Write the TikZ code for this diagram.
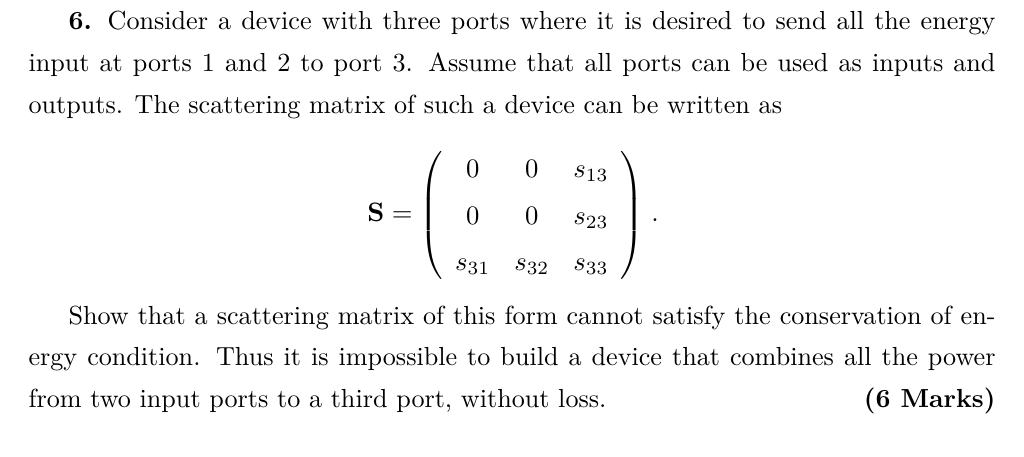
\documentclass[tikz,border=0pt]{standalone}
\usepackage{amsmath}
\begin{document}
\begin{tikzpicture}[x=0.375pt,y=-0.375pt,
  ln/.style={anchor=base west,inner sep=0pt,font=\fontsize{9.8}{12}\selectfont}]
\useasboundingbox (0,0) rectangle (1024,457);
\node[ln] (l1) at (68,30) {\makebox[927\dimexpr0.375pt][s]{\textbf{6.} Consider a device with three ports where it is desired to send all the energy}};
\node[ln] (l2) at (28,72) {\makebox[967\dimexpr0.375pt][s]{input at ports 1 and 2 to port 3. Assume that all ports can be used as inputs and}};
\node[ln] (l3) at (28,114) {outputs. The scattering matrix of such a device can be written as};
\node[inner sep=0pt,font=\fontsize{9.8}{12}\selectfont] (m) at (513,215) {$\mathbf{S} = {\renewcommand\arraystretch{1.45}\setlength\arraycolsep{4.5pt}\left(\begin{array}{ccc} 0 & 0 & s_{13}\\ 0 & 0 & s_{23}\\ s_{31} & s_{32} & s_{33}\end{array}\right)}\;.$};
\node[ln] (l4) at (68,325) {\makebox[927\dimexpr0.375pt][s]{Show that a scattering matrix of this form cannot satisfy the conservation of en-}};
\node[ln] (l5) at (28,366) {\makebox[967\dimexpr0.375pt][s]{ergy condition. Thus it is impossible to build a device that combines all the power}};
\node[ln] (l6) at (28,408) {\makebox[967\dimexpr0.375pt][s]{from two input ports to a third port, without loss.\hfill\textbf{(6 Marks)}}};
\end{tikzpicture}
\end{document}
